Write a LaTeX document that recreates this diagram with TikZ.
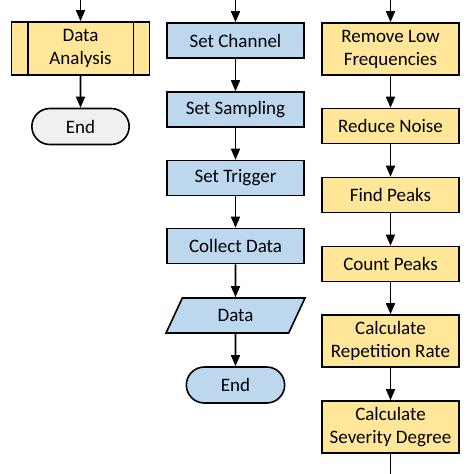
\documentclass[tikz,border=0pt]{standalone}
\usepackage{fontspec}
\setmainfont{Carlito}
\usetikzlibrary{arrows.meta,shapes.geometric,shapes.misc}
\definecolor{procblue}{HTML}{BDD7EE}
\definecolor{procgold}{HTML}{FFE699}
\definecolor{termgray}{HTML}{F0F0F0}
\begin{document}
\begin{tikzpicture}[x=1pt,y=-1pt,
  font=\fontsize{19}{23}\selectfont,
  box/.style={draw=black, line width=1.6pt, minimum width=137pt, minimum height=35pt, align=center, inner sep=2pt},
  bluebox/.style={box, fill=procblue},
  goldbox/.style={box, fill=procgold},
  term/.style={draw=black, line width=1.6pt, rounded rectangle, minimum height=36pt, minimum width=105pt},
  flow/.style={line width=1.6pt, -{Triangle[width=9pt,length=11pt]}}]
\useasboundingbox (0,0) rectangle (474,474);
% left column
\coordinate (topA) at (80.5,0);
\node[goldbox, minimum width=138pt, minimum height=53pt] (ana) at (80.5,48.5) {Data\\Analysis};
\draw[line width=1.6pt] ([xshift=17pt]ana.north west)--([xshift=17pt]ana.south west);
\draw[line width=1.6pt] ([xshift=-17pt]ana.north east)--([xshift=-17pt]ana.south east);
\node[term, fill=termgray, minimum width=104pt] (endA) at (80.5,126.5) {End};
\draw[flow] (topA)--(ana);
\draw[flow] (ana)--(endA);
% middle column
\coordinate (topB) at (235.5,0);
\node[bluebox] (chan) at (235.5,40.5) {Set Channel};
\node[bluebox] (samp) at (235.5,109.5) {Set Sampling};
\node[bluebox] (trig) at (235.5,178) {Set Trigger};
\node[bluebox] (coll) at (235.5,246) {Collect Data};
\node[draw=black, line width=1.6pt, fill=procblue, trapezium, trapezium left angle=45, trapezium right angle=135,
  trapezium stretches body, minimum width=139pt, minimum height=35pt, inner sep=2pt] (data) at (235.5,315.5) {Data};
\node[term, fill=procblue] (endB) at (235.5,385) {End};
\draw[flow] (topB)--(chan);
\draw[flow] (chan)--(samp);
\draw[flow] (samp)--(trig);
\draw[flow] (trig)--(coll);
\draw[flow] (coll)--(data);
\draw[flow] (data)--(endB);
% right column
\coordinate (topC) at (390.5,0);
\node[goldbox, minimum height=52pt] (lowf) at (390.5,49) {Remove Low\\Frequencies};
\node[goldbox] (noise) at (390.5,126) {Reduce Noise};
\node[goldbox] (find) at (390.5,195) {Find Peaks};
\node[goldbox] (count) at (390.5,264) {Count Peaks};
\node[goldbox, minimum height=52pt] (rate) at (390.5,341) {Calculate\\Repetition Rate};
\node[goldbox, minimum height=52pt] (sev) at (390.5,427) {Calculate\\Severity Degree};
\coordinate (botC) at (390.5,474);
\draw[flow] (topC)--(lowf);
\draw[flow] (lowf)--(noise);
\draw[flow] (noise)--(find);
\draw[flow] (find)--(count);
\draw[flow] (count)--(rate);
\draw[flow] (rate)--(sev);
\draw[line width=1.6pt] (sev)--(botC);
\end{tikzpicture}
\end{document}
